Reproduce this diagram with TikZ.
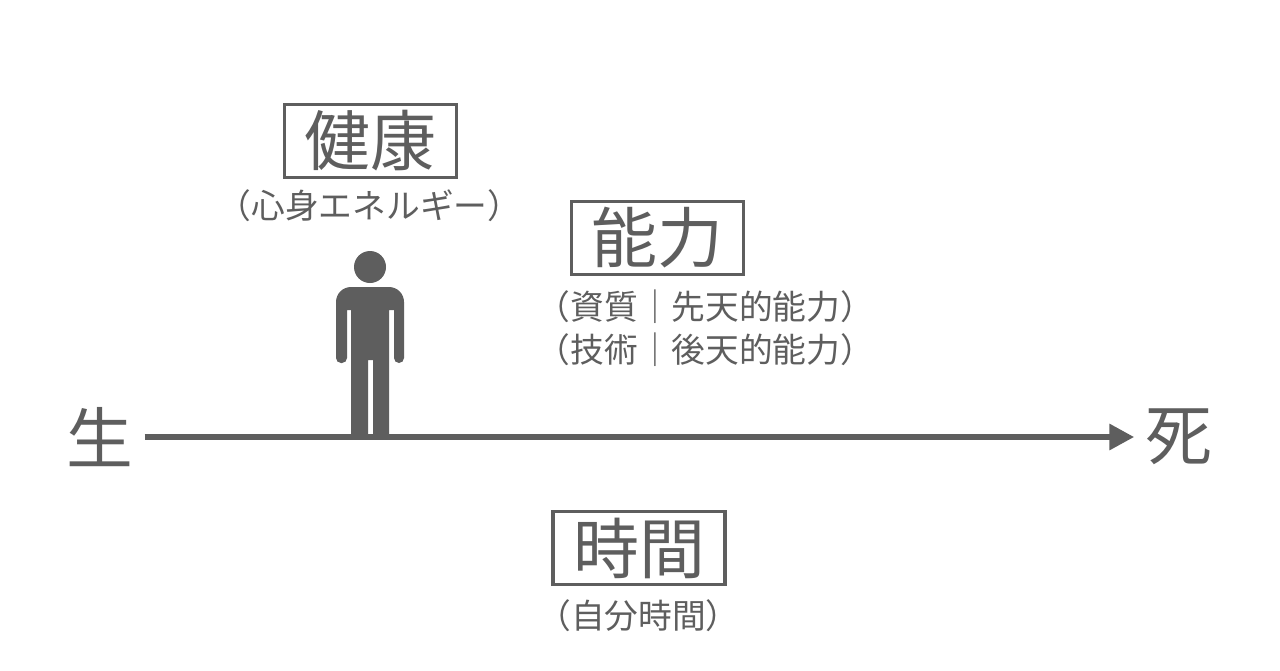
\documentclass[tikz,border=0pt]{standalone}
\usepackage{fontspec}
\newfontfamily\cjk{Noto Sans CJK JP}
\usepackage{tikz}
\usetikzlibrary{arrows.meta}
\definecolor{ink}{HTML}{5E5E5E}
\tikzset{
	title/.style={draw=ink, line width=.07cm, text=ink, minimum width=3.45cm, minimum height=1.46cm, inner sep=0pt, font=\cjk\fontsize{37.5}{37.5}\selectfont},
	note/.style={text=ink, inner sep=0pt, align=center, font=\cjk\fontsize{19.2}{24.4}\selectfont},
	ends/.style={text=ink, inner sep=.22cm, font=\cjk\fontsize{38}{38}\selectfont}
}

\begin{document}
\begin{tikzpicture}[x=.02cm, y=-.02cm]
		\useasboundingbox (0, 0) rectangle (1280, 670);
		\fill[white] (0, 0) rectangle (1280, 670);
		
		\node[title] (health) at (370.5, 141) {健康};
		\node[title] (ability) at (657.5, 238) {能力};
		\node[title] (time) at (639, 548) {時間};
		
		\node[note] (healthnote) at (369.5, 206) {（心身エネルギー）};
		\node[note] (abilitynote) at (705.5, 328.5) {（資質｜先天的能力）\\（技術｜後天的能力）};
		\node[note] (timenote) at (638.5, 616) {（自分時間）};
		
		\node[ends] (birth) at (100, 437) {生};
		\node[ends] (death) at (1179, 437) {死};
		
		% person
		\fill[ink] (370, 267) circle[radius=.32cm];
		\fill[ink] (351, 434) -- (351, 310) -- (347, 310) [rounded corners=.1cm] -- (347, 363) -- (336, 363) [rounded corners=.3cm] -- (336, 287) -- (404, 287) [rounded corners=.1cm] -- (404, 363) -- (394, 363) [sharp corners] -- (394, 310) -- (389, 310) -- (389, 434) -- (373, 434) -- (373, 360) -- (368, 360) -- (368, 434) -- cycle;
		
		\draw[ink, line width=.13cm, -{Triangle[length=.5cm, width=.5cm]}] (birth) -- (death);
	\end{tikzpicture}
\end{document}
